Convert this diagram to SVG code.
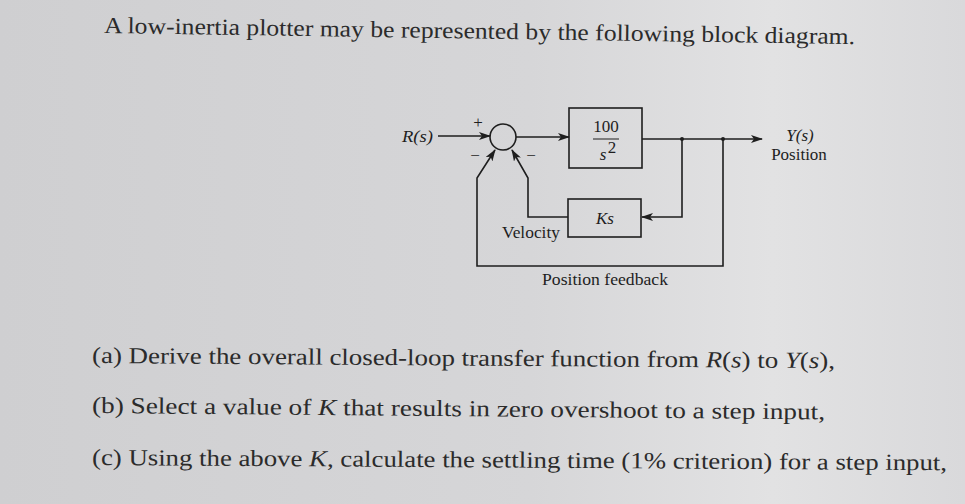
<svg xmlns="http://www.w3.org/2000/svg" width="965" height="504" viewBox="0 0 965 504">
<defs>
<linearGradient id="bg" x1="0" y1="0" x2="1" y2="0">
<stop offset="0" stop-color="#cfcfd1"/>
<stop offset="0.55" stop-color="#d6d6d8"/>
<stop offset="0.8" stop-color="#e2e2e3"/>
<stop offset="1" stop-color="#d9d9db"/>
</linearGradient>
<marker id="ah" markerWidth="12" markerHeight="8" refX="11" refY="4" orient="auto" markerUnits="userSpaceOnUse">
<path d="M0,0 L12,4 L0,8 L3,4 Z" fill="#1e1e1e"/>
</marker>
</defs>
<style>
.q{font-family:"Liberation Serif",serif;font-size:23px;fill:#2b2b2b}
.d{font-family:"Liberation Serif",serif;font-size:17px;fill:#1e1e1e}
.it{font-style:italic}
.ln{fill:none;stroke:#1e1e1e;stroke-width:1.6}
.blk{fill:none;stroke:#1e1e1e;stroke-width:1.6}
</style>
<rect width="965" height="504" fill="url(#bg)"/>

<text class="q" x="104" y="33" transform="rotate(0.85 104 33)" textLength="751" lengthAdjust="spacingAndGlyphs">A low-inertia plotter may be represented by the following block diagram.</text>

<g id="connectors">
<line class="ln" x1="438" y1="136" x2="490" y2="136" marker-end="url(#ah)"/>
<line class="ln" x1="516" y1="137" x2="569" y2="137" marker-end="url(#ah)"/>
<line class="ln" x1="642" y1="139" x2="762" y2="139" marker-end="url(#ah)"/>
<polyline class="ln" points="682,139 682,217 642,217" marker-end="url(#ah)"/>
<polyline class="ln" points="568,217 528,217 528,178 512,150" marker-end="url(#ah)"/>
<polyline class="ln" points="723,139 723,266 477,266 477,178 495,150" marker-end="url(#ah)"/>
<circle cx="682" cy="139" r="2" fill="#1e1e1e"/>
<circle cx="723" cy="139" r="2" fill="#1e1e1e"/>
</g>

<g id="input">
<text class="d it" x="433" y="142" text-anchor="end" textLength="31" lengthAdjust="spacingAndGlyphs">R(s)</text>
</g>

<g id="sum">
<circle class="blk" cx="503" cy="137" r="13"/>
<text class="d" x="478" y="128" text-anchor="middle" font-size="16">+</text>
<text class="d" x="475" y="161" text-anchor="middle" font-size="16">−</text>
<text class="d" x="531" y="161" text-anchor="middle" font-size="16">−</text>
</g>

<g id="plant">
<rect class="blk" x="569" y="108" width="73" height="60"/>
<text class="d" x="606" y="132" text-anchor="middle" font-size="15">100</text>
<line x1="593" y1="139" x2="619" y2="139" stroke="#1e1e1e" stroke-width="1"/>
<text class="d it" x="603" y="160" text-anchor="middle" font-size="15">s</text>
<text class="d" x="612" y="153" text-anchor="middle" font-size="9.5">2</text>
</g>

<g id="ks">
<rect class="blk" x="568" y="199" width="73" height="38"/>
<text class="d it" x="605" y="224" text-anchor="middle" font-size="15.5">Ks</text>
</g>

<g id="output">
<text class="d it" x="800" y="141" text-anchor="middle" font-size="14" fill="#555">Y(s)</text>
<text class="d" x="799" y="160" text-anchor="middle" font-size="15.5" fill="#555">Position</text>
</g>

<g id="labels">
<text class="d" x="502" y="238" font-size="18" textLength="58" lengthAdjust="spacingAndGlyphs">Velocity</text>
<text class="d" x="542" y="285" font-size="17.5" textLength="126" lengthAdjust="spacingAndGlyphs">Position feedback</text>
</g>

<text class="q" x="92" y="363" transform="rotate(0.4 92 363)" textLength="743" lengthAdjust="spacingAndGlyphs">(a) Derive the overall closed-loop transfer function from <tspan font-style="italic">R</tspan>(<tspan font-style="italic">s</tspan>) to <tspan font-style="italic">Y</tspan>(<tspan font-style="italic">s</tspan>),</text>
<text class="q" x="92" y="413" transform="rotate(0.5 92 413)" textLength="733" lengthAdjust="spacingAndGlyphs">(b) Select a value of <tspan font-style="italic">K</tspan> that results in zero overshoot to a step input,</text>
<text class="q" x="92" y="465" transform="rotate(0.35 92 465)" textLength="855" lengthAdjust="spacingAndGlyphs">(c) Using the above <tspan font-style="italic">K</tspan>, calculate the settling time (1% criterion) for a step input,</text>
</svg>
